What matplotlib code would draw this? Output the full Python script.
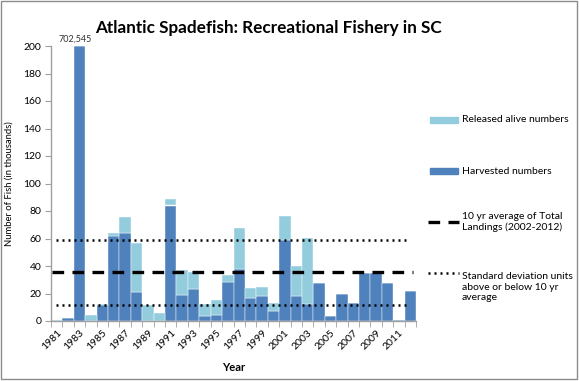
import matplotlib
matplotlib.use("Agg")
import matplotlib.pyplot as plt
from matplotlib.lines import Line2D
from matplotlib.patches import Rectangle
import numpy as np

years = list(range(1981, 2013))
harvested = [0, 2, 200, 0, 11.5, 62, 64, 21, 0, 0, 84, 19, 23.5, 4, 4.5, 28.5, 38,
             16.5, 18, 7, 59, 18, 12.5, 27.5, 4, 20, 13, 35, 35, 27.5, 0.7, 22]
total = [1, 2, 200, 4.5, 12.5, 64, 75.5, 57, 11.5, 5.5, 88.5, 37, 35.5, 12.5, 15, 33.5, 68,
         24, 24.5, 13, 76.5, 40, 60.5, 27.5, 4, 20, 13, 35, 35, 27.5, 0.7, 22]
released = [t - h for t, h in zip(total, harvested)]
avg10 = 35.5
sd_upper = 59.2
sd_lower = 11.3
peak_label = "702,545"

plt.rcParams['font.family'] = ['Lato', 'DejaVu Sans']
fig = plt.figure(figsize=(5.79, 3.81), dpi=100)
ax = fig.add_axes([51/579, 1-321/381, (416-51)/579, (321-46)/381])

dark = '#4F81BD'
light = '#93CDDD'
ax.bar(years, harvested, width=1.0, color=dark, edgecolor='white', linewidth=0.3, zorder=2)
ax.bar(years, released, width=1.0, bottom=harvested, color=light, edgecolor='white', linewidth=0.3, zorder=2)

ax.hlines(avg10, 1980.55, 2012.2, colors='black', linestyles=(0, (3.5, 2.5)), linewidth=2.4, zorder=3)
ax.hlines([sd_upper, sd_lower], 1980.9, 2011.9, colors='black', linestyles=(0, (0.8, 1.6)), linewidth=1.8, zorder=3)

ax.text(1982.6, 201.5, peak_label, ha='center', va='bottom', fontsize=6.5, color='#333333')

ax.set_xlim(1980.5, 2012.5)
ax.set_ylim(0, 200)
ax.set_yticks(np.arange(0, 201, 20))
ax.set_xticks(years[::2])
ax.set_xticklabels([str(y) for y in years[::2]], rotation=45, ha='right', rotation_mode='anchor', fontsize=7.5)
ax.set_xticks(np.arange(1980.5, 2013, 1), minor=True)
ax.tick_params(axis='x', which='major', length=0, pad=5)
ax.tick_params(axis='x', which='minor', length=4, color='#A0A0A0', direction='out')
ax.tick_params(axis='y', length=4, color='#A0A0A0', labelsize=7.5, pad=3)
for s in ['top', 'right']:
    ax.spines[s].set_visible(False)
for s in ['left', 'bottom']:
    ax.spines[s].set_color('#A0A0A0')
    ax.spines[s].set_linewidth(1.0)
ax.set_ylabel('Number of Fish (in thousands)', fontsize=6.8, labelpad=7)
ax.set_xlabel('Year', fontsize=8, fontweight='bold', labelpad=8)

fig.text(268/579, 1-28/381, 'Atlantic Spadefish: Recreational Fishery in SC', ha='center', va='center',
         fontsize=12.3, fontweight='bold')

# legend (manual)
def fx(x): return x/579
def fy(y): return 1-y/381
fig.patches.append(Rectangle((fx(430), fy(123)), fx(28), 6/381, transform=fig.transFigure, color=light))
fig.patches.append(Rectangle((fx(430), fy(174)), fx(28), 6/381, transform=fig.transFigure, color=dark))
fig.lines.append(Line2D([fx(428), fx(459)], [fy(222), fy(222)], transform=fig.transFigure, color='black',
                        linewidth=2.4, linestyle=(0, (3.5, 2.5))))
fig.lines.append(Line2D([fx(428), fx(459)], [fy(273), fy(273)], transform=fig.transFigure, color='black',
                        linewidth=1.8, linestyle=(0, (0.8, 1.6))))
lfs = 7.5
fig.text(fx(462), fy(120), 'Released alive numbers', fontsize=lfs, va='center')
fig.text(fx(462), fy(171), 'Harvested numbers', fontsize=lfs, va='center')
fig.text(fx(462), fy(222), '10 yr average of Total\nLandings (2002-2012)', fontsize=lfs, va='center', linespacing=1.25)
fig.text(fx(462), fy(287), 'Standard deviation units\nabove or below 10 yr\naverage', fontsize=lfs, va='center', linespacing=1.25)

fig.patches.append(Rectangle((0.5/579, 2/381), 576/579, 378/381, transform=fig.transFigure,
                             fill=False, edgecolor='#8C8C8C', linewidth=1.0))

fig.savefig('out.png', dpi=100)
